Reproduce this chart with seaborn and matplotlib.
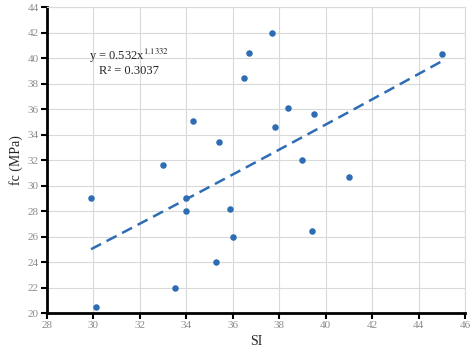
import numpy as np
import pandas as pd
import matplotlib
matplotlib.use("Agg")
import matplotlib.pyplot as plt
import seaborn as sns

# --- Data ---
si = [29.9, 30.1, 33.0, 33.5, 34.0, 34.0, 34.3, 35.3, 35.4, 35.9, 36.0,
      36.5, 36.7, 37.7, 37.8, 38.4, 39.0, 39.4, 39.5, 41.0, 45.0]
fc = [29.0, 20.5, 31.6, 22.0, 29.0, 28.0, 35.1, 24.0, 33.4, 28.2, 26.0,
      38.4, 40.4, 42.0, 34.6, 36.1, 32.0, 26.4, 35.6, 30.7, 40.3]

# power trendline shown on the chart: y = a * x^b
trend_a = 0.532
trend_b = 1.1332
trend_x = [29.9, 45.0]

x_ticks = list(range(28, 47, 2))
y_ticks = list(range(20, 45, 2))

blue = "#2E6DB4"

df = pd.DataFrame({"SI": si, "fc": fc})
xs = np.linspace(trend_x[0], trend_x[1], 50)
df_trend = pd.DataFrame({"SI": xs, "fc": trend_a * xs ** trend_b})

sns.set_style("whitegrid")
plt.rcParams["font.family"] = ["Liberation Serif", "DejaVu Serif"]
plt.rcParams["mathtext.fontset"] = "stix"

fig, ax = plt.subplots(figsize=(4.74, 3.53), dpi=100)
fig.subplots_adjust(left=0.099, right=0.981, bottom=0.113, top=0.98)

sns.lineplot(data=df_trend, x="SI", y="fc", ax=ax, color=blue,
             linewidth=1.8, linestyle=(0, (4.5, 2.5)))
sns.scatterplot(data=df, x="SI", y="fc", ax=ax, color=blue, s=22,
                edgecolor=blue, linewidth=0, zorder=3)

ax.set_xlim(28, 46)
ax.set_ylim(20, 44)
ax.set_xticks(x_ticks)
ax.set_yticks(y_ticks)
ax.grid(True, color="#d9d9d9", linewidth=0.8)

for side in ["top", "right"]:
    ax.spines[side].set_color("#d9d9d9")
    ax.spines[side].set_linewidth(0.8)
for side in ["left", "bottom"]:
    ax.spines[side].set_color("black")
    ax.spines[side].set_linewidth(2.0)

ax.tick_params(axis="both", direction="out", length=4, width=1.5,
               color="black", labelsize=8, labelcolor="#8c8c8c", pad=2,
               left=True, bottom=True)

ax.set_xlabel("SI", fontsize=10, labelpad=3)
ax.set_ylabel("fc (MPa)", fontsize=10, labelpad=3)

ax.text(29.8, 40.15, r"y = 0.532x$^{1.1332}$", fontsize=9, va="center",
        ha="left")
ax.text(30.25, 38.95, "R² = 0.3037", fontsize=9, va="center", ha="left")

fig.savefig("out.png", dpi=100)
